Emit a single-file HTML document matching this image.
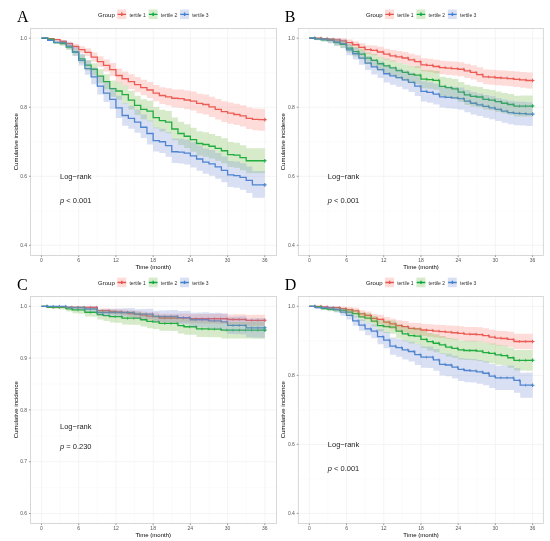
<!DOCTYPE html>
<html><head><meta charset="utf-8"><style>
html,body{margin:0;padding:0;background:#fff;width:550px;height:541px;overflow:hidden}
svg{display:block;font-family:"Liberation Sans", sans-serif;transform:translateZ(0);will-change:transform}
text{stroke-width:0.22px}
</style></head><body>
<svg width="550" height="541" viewBox="0 0 550 541" font-family='"Liberation Sans", sans-serif'>
<rect width="550" height="541" fill="#fff"/>
<path d="M60.11 28.45V255.45M97.33 28.45V255.45M134.54 28.45V255.45M171.76 28.45V255.45M208.98 28.45V255.45M246.19 28.45V255.45M30.55 72.72H276.55M30.55 141.76H276.55M30.55 210.8H276.55" stroke="#F8F8F8" stroke-width="0.6" fill="none"/>
<path d="M41.5 28.45V255.45M78.72 28.45V255.45M115.93 28.45V255.45M153.15 28.45V255.45M190.37 28.45V255.45M227.58 28.45V255.45M264.8 28.45V255.45M30.55 38.2H276.55M30.55 107.24H276.55M30.55 176.28H276.55M30.55 245.32H276.55" stroke="#F1F1F1" stroke-width="0.8" fill="none"/>
<path d="M41.5 38.2H47.7V38.55H53.91V39.58H60.11V41.31H66.31V43.72H72.51V46.48H78.72V49.59H84.92V52.35H91.12V57.19H97.33V61.67H103.53V65.47H109.73V69.61H115.93V75.48H122.14V78.73H128.34V81.7H134.54V84.63H140.74V87.56H146.95V89.98H153.15V93.09H159.35V95.5H165.56V96.88H171.76V98.26H177.96V98.61H184.16V99.99H190.37V101.03H196.57V103.44H202.77V104.48H208.98V106.89H215.18V109.31H221.38V111.56H227.58V113.11H233.79V114.49H239.99V115.87H246.19V118.29H252.4V119.32H258.6V119.67H264.8" stroke="#E8534E" stroke-width="1.3" fill="none" stroke-linejoin="miter"/>
<path d="M264.8 117.87V121.47M263 119.67H266.6" stroke="#E8534E" stroke-width="1.1"/>
<path d="M41.5 38.2H47.7V39.24H53.91V42.69H60.11V43.72H66.31V47.18H72.51V52.01H78.72V58.91H84.92V65.13H91.12V69.27H97.33V76.17H103.53V81.7H109.73V88.6H115.93V91.02H122.14V94.64H128.34V100.13H134.54V105.31H140.74V109.31H146.95V111.04H153.15V117.6H159.35V120.7H165.56V122.08H171.76V128.99H177.96V133.48H184.16V136.24H190.37V139.69H196.57V143.49H202.77V144.52H208.98V146.25H215.18V148.32H221.38V150.74H227.58V154.53H233.79V155.22H239.99V157.64H246.19V160.75H252.4V160.75H258.6V160.75H264.8" stroke="#07AA41" stroke-width="1.3" fill="none" stroke-linejoin="miter"/>
<path d="M264.8 158.95V162.55M263 160.75H266.6" stroke="#07AA41" stroke-width="1.1"/>
<path d="M41.5 38.2H47.7V40.27H53.91V42.34H60.11V42.69H66.31V46.14H72.51V52.01H78.72V60.29H84.92V68.58H91.12V76.86H97.33V86.18H103.53V93.09H109.73V99.44H115.93V107.93H122.14V115.52H128.34V118.29H134.54V122.08H140.74V127.26H146.95V133.48H153.15V140.55H159.35V141.76H165.56V145.56H171.76V151.77H177.96V152.12H184.16V153.15H190.37V155.91H196.57V159.02H202.77V162.13H208.98V163.85H215.18V166.96H221.38V170.41H227.58V174.9H233.79V175.59H239.99V177.32H246.19V180.42H252.4V184.91H258.6V184.91H264.8" stroke="#4181CF" stroke-width="1.3" fill="none" stroke-linejoin="miter"/>
<path d="M264.8 183.11V186.71M263 184.91H266.6" stroke="#4181CF" stroke-width="1.1"/>
<path d="M41.5 38.2 47.7 38.2 47.7 38.2 53.91 38.2 53.91 38.75 60.11 38.75 60.11 39.97 66.31 39.97 66.31 41.72 72.51 41.72 72.51 43.82 78.72 43.82 78.72 46.26 84.92 46.26 84.92 48.35 91.12 48.35 91.12 52.52 97.33 52.52 97.33 56.34 103.53 56.34 103.53 59.47 109.73 59.47 109.73 62.95 115.93 62.95 115.93 68.4 122.14 68.4 122.14 71.48 128.34 71.48 128.34 74.28 134.54 74.28 134.54 77.05 140.74 77.05 140.74 79.81 146.95 79.81 146.95 82.06 153.15 82.06 153.15 84.96 159.35 84.96 159.35 87.13 165.56 87.13 165.56 88.26 171.76 88.26 171.76 89.39 177.96 89.39 177.96 89.49 184.16 89.49 184.16 90.62 190.37 90.62 190.37 91.44 196.57 91.44 196.57 93.69 202.77 93.69 202.77 94.56 208.98 94.56 208.98 96.81 215.18 96.81 215.18 99.06 221.38 99.06 221.38 101.14 227.58 101.14 227.58 102.57 233.79 102.57 233.79 103.86 239.99 103.86 239.99 105.16 246.19 105.16 246.19 107.49 252.4 107.49 252.4 108.45 258.6 108.45 258.6 108.71 264.8 108.71 264.8 130.63 258.6 130.63 258.6 130.2 252.4 130.2 252.4 129.08 246.19 129.08 246.19 126.58 239.99 126.58 239.99 125.11 233.79 125.11 233.79 123.65 227.58 123.65 227.58 121.97 221.38 121.97 221.38 119.56 215.18 119.56 215.18 116.98 208.98 116.98 208.98 114.4 202.77 114.4 202.77 113.19 196.57 113.19 196.57 110.61 190.37 110.61 190.37 109.37 184.16 109.37 184.16 107.74 177.96 107.74 177.96 107.14 171.76 107.14 171.76 105.51 165.56 105.51 165.56 103.88 159.35 103.88 159.35 101.21 153.15 101.21 153.15 97.9 146.95 97.9 146.95 95.31 140.74 95.31 140.74 92.21 134.54 92.21 134.54 89.11 128.34 89.11 128.34 85.98 122.14 85.98 122.14 82.56 115.93 82.56 115.93 76.28 109.73 76.28 109.73 71.47 103.53 71.47 103.53 67.01 97.33 67.01 97.33 61.85 91.12 61.85 91.12 56.35 84.92 56.35 84.92 52.92 78.72 52.92 78.72 49.15 72.51 49.15 72.51 45.72 66.31 45.72 66.31 42.64 60.11 42.64 60.11 40.41 53.91 40.41 53.91 39.05 47.7 39.05 47.7 38.37 41.5 38.37Z" fill="#F8766D" fill-opacity="0.26"/>
<path d="M41.5 38.2 47.7 38.2 47.7 38.49 53.91 38.49 53.91 41.44 60.11 41.44 60.11 41.81 66.31 41.81 66.31 44.43 72.51 44.43 72.51 48.42 78.72 48.42 78.72 54.5 84.92 54.5 84.92 59.88 91.12 59.88 91.12 63.18 97.33 63.18 97.33 69.34 103.53 69.34 103.53 74.2 109.73 74.2 109.73 80.43 115.93 80.43 115.93 82.35 122.14 82.35 122.14 85.64 128.34 85.64 128.34 90.8 134.54 90.8 134.54 95.64 140.74 95.64 140.74 99.31 146.95 99.31 146.95 100.7 153.15 100.7 153.15 106.97 159.35 106.97 159.35 109.83 165.56 109.83 165.56 110.96 171.76 110.96 171.76 117.61 177.96 117.61 177.96 121.85 184.16 121.85 184.16 124.36 190.37 124.36 190.37 127.65 196.57 127.65 196.57 131.36 202.77 131.36 202.77 132.31 208.98 132.31 208.98 133.96 215.18 133.96 215.18 135.94 221.38 135.94 221.38 138.28 227.58 138.28 227.58 142.03 233.79 142.03 233.79 142.72 239.99 142.72 239.99 145.14 246.19 145.14 246.19 148.25 252.4 148.25 252.4 148.25 258.6 148.25 258.6 148.25 264.8 148.25 264.8 173.25 258.6 173.25 258.6 173.25 252.4 173.25 252.4 173.25 246.19 173.25 246.19 170.14 239.99 170.14 239.99 167.72 233.79 167.72 233.79 167.03 227.58 167.03 227.58 163.19 221.38 163.19 221.38 160.69 215.18 160.69 215.18 158.54 208.98 158.54 208.98 156.73 202.77 156.73 202.77 155.61 196.57 155.61 196.57 151.73 190.37 151.73 190.37 148.11 184.16 148.11 184.16 145.1 177.96 145.1 177.96 140.36 171.76 140.36 171.76 133.21 165.56 133.21 165.56 131.58 159.35 131.58 159.35 128.22 153.15 128.22 153.15 121.37 146.95 121.37 146.95 119.31 140.74 119.31 140.74 114.97 134.54 114.97 134.54 109.46 128.34 109.46 128.34 103.64 122.14 103.64 122.14 99.68 115.93 99.68 115.93 96.77 109.73 96.77 109.73 89.2 103.53 89.2 103.53 83.01 97.33 83.01 97.33 75.35 91.12 75.35 91.12 70.38 84.92 70.38 84.92 63.33 78.72 63.33 78.72 55.59 72.51 55.59 72.51 49.93 66.31 49.93 66.31 45.64 60.11 45.64 60.11 43.94 53.91 43.94 53.91 39.99 47.7 39.99 47.7 38.45 41.5 38.45Z" fill="#6AB43E" fill-opacity="0.27"/>
<path d="M41.5 38.2 47.7 38.2 47.7 39.27 53.91 39.27 53.91 40.68 60.11 40.68 60.11 40.02 66.31 40.02 66.31 42.14 72.51 42.14 72.51 46.67 78.72 46.67 78.72 53.63 84.92 53.63 84.92 60.58 91.12 60.58 91.12 67.53 97.33 67.53 97.33 75.85 103.53 75.85 103.53 82.09 109.73 82.09 109.73 87.77 115.93 87.77 115.93 95.85 122.14 95.85 122.14 103.27 128.34 103.27 128.34 105.87 134.54 105.87 134.54 109.5 140.74 109.5 140.74 114.51 146.95 114.51 146.95 120.56 153.15 120.56 153.15 127.51 159.35 127.51 159.35 128.64 165.56 128.64 165.56 132.35 171.76 132.35 171.76 138.48 177.96 138.48 177.96 138.74 184.16 138.74 184.16 139.69 190.37 139.69 190.37 142.37 196.57 142.37 196.57 145.39 202.77 145.39 202.77 148.42 208.98 148.42 208.98 150.06 215.18 150.06 215.18 153.08 221.38 153.08 221.38 156.45 227.58 156.45 227.58 160.9 233.79 160.9 233.79 161.59 239.99 161.59 239.99 163.32 246.19 163.32 246.19 166.42 252.4 166.42 252.4 170.91 258.6 170.91 258.6 170.91 264.8 170.91 264.8 197.83 258.6 197.83 258.6 197.66 252.4 197.66 252.4 193.01 246.19 193.01 246.19 189.73 239.99 189.73 239.99 187.84 233.79 187.84 233.79 186.98 227.58 186.98 227.58 182.37 221.38 182.37 221.38 178.83 215.18 178.83 215.18 175.64 208.98 175.64 208.98 173.84 202.77 173.84 202.77 170.64 196.57 170.64 196.57 167.45 190.37 167.45 190.37 164.61 184.16 164.61 184.16 163.49 177.96 163.49 177.96 163.06 171.76 163.06 171.76 156.77 165.56 156.77 165.56 152.89 159.35 152.89 159.35 151.59 153.15 151.59 153.15 144.39 146.95 144.39 146.95 138.01 140.74 138.01 140.74 132.67 134.54 132.67 134.54 128.7 128.34 128.7 128.34 125.77 122.14 125.77 122.14 118.01 115.93 118.01 115.93 109.11 109.73 109.11 109.73 102.09 103.53 102.09 103.53 94.52 97.33 94.52 97.33 84.28 91.12 84.28 91.12 74.83 84.92 74.83 84.92 65.38 78.72 65.38 78.72 56.01 72.51 56.01 72.51 49.14 66.31 49.14 66.31 44.69 60.11 44.69 60.11 43.59 53.91 43.59 53.91 41.02 47.7 41.02 47.7 38.45 41.5 38.45Z" fill="#788CD2" fill-opacity="0.27"/>
<rect x="30.55" y="28.45" width="246" height="227" fill="none" stroke="#D4D4D4" stroke-width="0.9"/>
<path d="M41.5 255.45V257.05M78.72 255.45V257.05M115.93 255.45V257.05M153.15 255.45V257.05M190.37 255.45V257.05M227.58 255.45V257.05M264.8 255.45V257.05M28.95 38.2H30.55M28.95 107.24H30.55M28.95 176.28H30.55M28.95 245.32H30.55" stroke="#555" stroke-width="0.6" fill="none"/>
<text x="41.5" y="261.9" font-size="5.0" fill="#555" text-anchor="middle">0</text>
<text x="78.72" y="261.9" font-size="5.0" fill="#555" text-anchor="middle">6</text>
<text x="115.93" y="261.9" font-size="5.0" fill="#555" text-anchor="middle">12</text>
<text x="153.15" y="261.9" font-size="5.0" fill="#555" text-anchor="middle">18</text>
<text x="190.37" y="261.9" font-size="5.0" fill="#555" text-anchor="middle">24</text>
<text x="227.58" y="261.9" font-size="5.0" fill="#555" text-anchor="middle">30</text>
<text x="264.8" y="261.9" font-size="5.0" fill="#555" text-anchor="middle">36</text>
<text x="27.1" y="39.9" font-size="5.0" fill="#555" text-anchor="end">1.0</text>
<text x="27.1" y="108.94" font-size="5.0" fill="#555" text-anchor="end">0.8</text>
<text x="27.1" y="177.98" font-size="5.0" fill="#555" text-anchor="end">0.6</text>
<text x="27.1" y="247.02" font-size="5.0" fill="#555" text-anchor="end">0.4</text>
<text x="153.3" y="268.5" font-size="6" fill="#000" text-anchor="middle">Time (month)</text>
<text transform="translate(17.5 141.7) rotate(-90)" font-size="6" fill="#000" text-anchor="middle">Cumulative incidence</text>
<text x="16.9" y="22.3" font-family="'Liberation Serif', serif" font-size="16" fill="#000">A</text>
<text x="60" y="179.2" font-size="7.5" fill="#1e1e1e">Log−rank</text>
<text x="60" y="203.4" font-size="7.5" fill="#1e1e1e"><tspan font-style="italic">p</tspan> &lt; 0.001</text>
<text x="98.1" y="17.1" font-size="6" fill="#111">Group</text>
<rect x="117.2" y="9.5" width="9" height="9.6" fill="#F8766D" fill-opacity="0.26"/>
<path d="M117.5 14.4H126.1M121.8 12.6V16" stroke="#E8534E" stroke-width="1.4"/>
<text x="129.4" y="16.7" font-size="5" fill="#333">tertile 1</text>
<rect x="148.6" y="9.5" width="9" height="9.6" fill="#6AB43E" fill-opacity="0.27"/>
<path d="M148.9 14.4H157.5M153.2 12.6V16" stroke="#07AA41" stroke-width="1.4"/>
<text x="160.8" y="16.7" font-size="5" fill="#333">tertile 2</text>
<rect x="180" y="9.5" width="9" height="9.6" fill="#788CD2" fill-opacity="0.27"/>
<path d="M180.3 14.4H188.9M184.6 12.6V16" stroke="#4181CF" stroke-width="1.4"/>
<text x="192.2" y="16.7" font-size="5" fill="#333">tertile 3</text>
<path d="M327.91 28.45V255.45M365.13 28.45V255.45M402.34 28.45V255.45M439.56 28.45V255.45M476.78 28.45V255.45M513.99 28.45V255.45M298.35 72.72H543.35M298.35 141.76H543.35M298.35 210.8H543.35" stroke="#F8F8F8" stroke-width="0.6" fill="none"/>
<path d="M309.3 28.45V255.45M346.52 28.45V255.45M383.73 28.45V255.45M420.95 28.45V255.45M458.17 28.45V255.45M495.38 28.45V255.45M532.6 28.45V255.45M298.35 38.2H543.35M298.35 107.24H543.35M298.35 176.28H543.35M298.35 245.32H543.35" stroke="#F1F1F1" stroke-width="0.8" fill="none"/>
<path d="M309.3 38.2H315.5V38.2H321.71V38.55H327.91V39.24H334.11V39.93H340.31V40.96H346.52V42.69H352.72V44.76H358.92V47.35H365.13V49.59H371.33V50.28H377.53V52.01H383.73V54.22H389.94V55.81H396.14V56.84H402.34V58.01H408.54V59.95H414.75V61.67H420.95V64.78H427.15V65.3H433.36V66.51H439.56V67.54H445.76V68.03H451.96V68.58H458.17V69.27H464.37V70.82H470.57V72.37H476.78V74.62H482.98V76.86H489.18V77.21H495.38V77.73H501.59V78.04H507.79V78.59H513.99V79.28H520.2V79.97H526.4V80.52H532.6" stroke="#E8534E" stroke-width="1.3" fill="none" stroke-linejoin="miter"/>
<path d="M314.76 36.7V39.7M320.96 36.7V39.7M327.16 37.05V40.05M333.37 37.74V40.74M339.57 38.43V41.43M345.77 39.46V42.46M351.98 41.19V44.19M358.18 43.26V46.26M364.38 45.85V48.85M370.58 48.09V51.09M376.79 48.78V51.78M382.99 50.51V53.51M389.19 52.72V55.72M395.39 54.31V57.31M401.6 55.34V58.34M407.8 56.51V59.51M414 58.45V61.45M420.21 60.17V63.17M426.41 63.28V66.28M432.61 63.8V66.8M438.81 65.01V68.01M445.02 66.04V69.04M451.22 66.53V69.53M457.42 67.08V70.08M463.63 67.77V70.77M469.83 69.32V72.32M476.03 70.87V73.87M482.23 73.12V76.12M488.44 75.36V78.36M494.64 75.71V78.71M500.84 76.23V79.23M507.05 76.54V79.54M513.25 77.09V80.09M519.45 77.78V80.78M525.65 78.47V81.47" stroke="#E8534E" stroke-width="0.7"/>
<path d="M532.6 78.72V82.32M530.8 80.52H534.4" stroke="#E8534E" stroke-width="1.1"/>
<path d="M309.3 38.2H315.5V38.89H321.71V39.93H327.91V40.44H334.11V42.69H340.31V44.41H346.52V48.21H352.72V51.66H358.92V54.08H365.13V58.22H371.33V60.29H377.53V63.74H383.73V65.82H389.94V67.89H396.14V70.65H402.34V72.37H408.54V74.45H414.75V75.14H420.95V79.14H427.15V79.62H433.36V80.31H439.56V86.32H445.76V87.56H451.96V88.94H458.17V92.05H464.37V94.81H470.57V96.33H476.78V97.02H482.98V99.3H489.18V100.13H495.38V101.72H501.59V103.24H507.79V104.48H513.99V106.03H520.2V106.03H526.4V106.03H532.6" stroke="#07AA41" stroke-width="1.3" fill="none" stroke-linejoin="miter"/>
<path d="M314.76 36.7V39.7M320.96 37.39V40.39M327.16 38.43V41.43M333.37 38.94V41.94M339.57 41.19V44.19M345.77 42.91V45.91M351.98 46.71V49.71M358.18 50.16V53.16M364.38 52.58V55.58M370.58 56.72V59.72M376.79 58.79V61.79M382.99 62.24V65.24M389.19 64.32V67.32M395.39 66.39V69.39M401.6 69.15V72.15M407.8 70.87V73.87M414 72.95V75.95M420.21 73.64V76.64M426.41 77.64V80.64M432.61 78.12V81.12M438.81 78.81V81.81M445.02 84.82V87.82M451.22 86.06V89.06M457.42 87.44V90.44M463.63 90.55V93.55M469.83 93.31V96.31M476.03 94.83V97.83M482.23 95.52V98.52M488.44 97.8V100.8M494.64 98.63V101.63M500.84 100.22V103.22M507.05 101.74V104.74M513.25 102.98V105.98M519.45 104.53V107.53M525.65 104.53V107.53" stroke="#07AA41" stroke-width="0.7"/>
<path d="M532.6 104.23V107.83M530.8 106.03H534.4" stroke="#07AA41" stroke-width="1.1"/>
<path d="M309.3 38.2H315.5V38.89H321.71V39.24H327.91V40.44H334.11V42H340.31V43.72H346.52V49.94H352.72V53.73H358.92V58.22H365.13V63.05H371.33V66.85H377.53V69.72H383.73V73.76H389.94V75.83H396.14V77.55H402.34V79.97H408.54V82.39H414.75V86.18H420.95V91.36H427.15V92.4H433.36V94.12H439.56V96.88H445.76V97.44H451.96V97.92H458.17V98.61H464.37V101.03H470.57V103.24H476.78V104.82H482.98V106.34H489.18V107.83H495.38V109.45H501.59V111.04H507.79V112.56H513.99V113.35H520.2V113.63H526.4V114.14H532.6" stroke="#4181CF" stroke-width="1.3" fill="none" stroke-linejoin="miter"/>
<path d="M314.76 36.7V39.7M320.96 37.39V40.39M327.16 37.74V40.74M333.37 38.94V41.94M339.57 40.5V43.5M345.77 42.22V45.22M351.98 48.44V51.44M358.18 52.23V55.23M364.38 56.72V59.72M370.58 61.55V64.55M376.79 65.35V68.35M382.99 68.22V71.22M389.19 72.26V75.26M395.39 74.33V77.33M401.6 76.05V79.05M407.8 78.47V81.47M414 80.89V83.89M420.21 84.68V87.68M426.41 89.86V92.86M432.61 90.9V93.9M438.81 92.62V95.62M445.02 95.38V98.38M451.22 95.94V98.94M457.42 96.42V99.42M463.63 97.11V100.11M469.83 99.53V102.53M476.03 101.74V104.74M482.23 103.32V106.32M488.44 104.84V107.84M494.64 106.33V109.33M500.84 107.95V110.95M507.05 109.54V112.54M513.25 111.06V114.06M519.45 111.85V114.85M525.65 112.13V115.13" stroke="#4181CF" stroke-width="0.7"/>
<path d="M532.6 112.34V115.94M530.8 114.14H534.4" stroke="#4181CF" stroke-width="1.1"/>
<path d="M309.3 38.2 315.5 38.2 315.5 38.2 321.71 38.2 321.71 38.2 327.91 38.2 327.91 38.2 334.11 38.2 334.11 38.2 340.31 38.2 340.31 38.21 346.52 38.21 346.52 39.48 352.72 39.48 352.72 41.13 358.92 41.13 358.92 43.31 365.13 43.31 365.13 45.13 371.33 45.13 371.33 45.41 377.53 45.41 377.53 46.72 383.73 46.72 383.73 48.63 389.94 48.63 389.94 50.06 396.14 50.06 396.14 50.92 402.34 50.92 402.34 51.93 408.54 51.93 408.54 53.7 414.75 53.7 414.75 55.26 420.95 55.26 420.95 58.24 427.15 58.24 427.15 58.67 433.36 58.67 433.36 59.8 439.56 59.8 439.56 60.75 445.76 60.75 445.76 61.15 451.96 61.15 451.96 61.62 458.17 61.62 458.17 62.23 464.37 62.23 464.37 63.7 470.57 63.7 470.57 65.17 476.78 65.17 476.78 67.33 482.98 67.33 482.98 69.49 489.18 69.49 489.18 69.75 495.38 69.75 495.38 70.18 501.59 70.18 501.59 70.41 507.79 70.41 507.79 70.88 513.99 70.88 513.99 71.49 520.2 71.49 520.2 72.09 526.4 72.09 526.4 72.56 532.6 72.56 532.6 88.48 526.4 88.48 526.4 87.84 520.2 87.84 520.2 87.07 513.99 87.07 513.99 86.3 507.79 86.3 507.79 85.66 501.59 85.66 501.59 85.27 495.38 85.27 495.38 84.67 489.18 84.67 489.18 84.24 482.98 84.24 482.98 81.91 476.78 81.91 476.78 79.58 470.57 79.58 470.57 77.95 464.37 77.95 464.37 76.31 458.17 76.31 458.17 75.54 451.96 75.54 451.96 74.9 445.76 74.9 445.76 74.33 439.56 74.33 439.56 73.21 433.36 73.21 433.36 71.92 427.15 71.92 427.15 71.32 420.95 71.32 420.95 68.09 414.75 68.09 414.75 66.2 408.54 66.2 408.54 64.1 402.34 64.1 402.34 62.76 396.14 62.76 396.14 61.56 389.94 61.56 389.94 59.8 383.73 59.8 383.73 57.3 377.53 57.3 377.53 55.16 371.33 55.16 371.33 54.05 365.13 54.05 365.13 51.39 358.92 51.39 358.92 48.38 352.72 48.38 352.72 45.9 346.52 45.9 346.52 43.71 340.31 43.71 340.31 42.18 334.11 42.18 334.11 40.99 327.91 40.99 327.91 39.8 321.71 39.8 321.71 38.95 315.5 38.95 315.5 38.45 309.3 38.45Z" fill="#F8766D" fill-opacity="0.26"/>
<path d="M309.3 38.2 315.5 38.2 315.5 38.2 321.71 38.2 321.71 38.26 327.91 38.26 327.91 38.2 334.11 38.2 334.11 39.69 340.31 39.69 340.31 40.75 346.52 40.75 346.52 43.96 352.72 43.96 352.72 46.91 358.92 46.91 358.92 48.83 365.13 48.83 365.13 52.47 371.33 52.47 371.33 54.04 377.53 54.04 377.53 56.99 383.73 56.99 383.73 58.65 389.94 58.65 389.94 60.39 396.14 60.39 396.14 62.82 402.34 62.82 402.34 64.21 408.54 64.21 408.54 65.95 414.75 65.95 414.75 66.3 420.95 66.3 420.95 70.06 427.15 70.06 427.15 70.37 433.36 70.37 433.36 70.9 439.56 70.9 439.56 76.74 445.76 76.74 445.76 77.81 451.96 77.81 451.96 79.03 458.17 79.03 458.17 82.03 464.37 82.03 464.37 84.75 470.57 84.75 470.57 86.23 476.78 86.23 476.78 86.88 482.98 86.88 482.98 89.11 489.18 89.11 489.18 89.9 495.38 89.9 495.38 91.45 501.59 91.45 501.59 92.92 507.79 92.92 507.79 94.12 513.99 94.12 513.99 95.64 520.2 95.64 520.2 95.59 526.4 95.59 526.4 95.55 532.6 95.55 532.6 116.51 526.4 116.51 526.4 116.47 520.2 116.47 520.2 116.43 513.99 116.43 513.99 114.83 507.79 114.83 507.79 113.55 501.59 113.55 501.59 111.99 495.38 111.99 495.38 110.36 489.18 110.36 489.18 109.49 482.98 109.49 482.98 107.17 476.78 107.17 476.78 106.44 470.57 106.44 470.57 104.88 464.37 104.88 464.37 102.07 458.17 102.07 458.17 98.86 451.96 98.86 451.96 97.31 445.76 97.31 445.76 95.9 439.56 95.9 439.56 89.73 433.36 89.73 433.36 88.87 427.15 88.87 427.15 88.22 420.95 88.22 420.95 83.97 414.75 83.97 414.75 82.95 408.54 82.95 408.54 80.54 402.34 80.54 402.34 78.48 396.14 78.48 396.14 75.39 389.94 75.39 389.94 72.98 383.73 72.98 383.73 70.49 377.53 70.49 377.53 66.54 371.33 66.54 371.33 63.97 365.13 63.97 365.13 59.33 358.92 59.33 358.92 56.41 352.72 56.41 352.72 52.46 346.52 52.46 346.52 48.08 340.31 48.08 340.31 45.69 334.11 45.69 334.11 42.78 327.91 42.78 327.91 41.59 321.71 41.59 321.71 39.89 315.5 39.89 315.5 38.53 309.3 38.53Z" fill="#6AB43E" fill-opacity="0.27"/>
<path d="M309.3 38.2 315.5 38.2 315.5 38.2 321.71 38.2 321.71 38.2 327.91 38.2 327.91 38.2 334.11 38.2 334.11 38.25 340.31 38.25 340.31 39.14 346.52 39.14 346.52 44.65 352.72 44.65 352.72 47.86 358.92 47.86 358.92 51.76 365.13 51.76 365.13 56.01 371.33 56.01 371.33 59.23 377.53 59.23 377.53 61.51 383.73 61.51 383.73 65.13 389.94 65.13 389.94 66.95 396.14 66.95 396.14 68.43 402.34 68.43 402.34 70.59 408.54 70.59 408.54 72.76 414.75 72.76 414.75 76.31 420.95 76.31 420.95 81.28 427.15 81.28 427.15 82.15 433.36 82.15 433.36 83.71 439.56 83.71 439.56 86.3 445.76 86.3 445.76 86.69 451.96 86.69 451.96 87 458.17 87 458.17 87.57 464.37 87.57 464.37 89.9 470.57 89.9 470.57 92.03 476.78 92.03 476.78 93.53 482.98 93.53 482.98 94.97 489.18 94.97 489.18 96.37 495.38 96.37 495.38 97.91 501.59 97.91 501.59 99.41 507.79 99.41 507.79 100.85 513.99 100.85 513.99 101.56 520.2 101.56 520.2 101.75 526.4 101.75 526.4 102.19 532.6 102.19 532.6 126.1 526.4 126.1 526.4 125.5 520.2 125.5 520.2 125.14 513.99 125.14 513.99 124.26 507.79 124.26 507.79 122.66 501.59 122.66 501.59 120.99 495.38 120.99 495.38 119.29 489.18 119.29 489.18 117.72 482.98 117.72 482.98 116.12 476.78 116.12 476.78 114.44 470.57 114.44 470.57 112.15 464.37 112.15 464.37 109.65 458.17 109.65 458.17 108.84 451.96 108.84 451.96 108.19 445.76 108.19 445.76 107.47 439.56 107.47 439.56 104.54 433.36 104.54 433.36 102.65 427.15 102.65 427.15 101.44 420.95 101.44 420.95 96.06 414.75 96.06 414.75 92.01 408.54 92.01 408.54 89.34 402.34 89.34 402.34 86.68 396.14 86.68 396.14 84.7 389.94 84.7 389.94 82.38 383.73 82.38 383.73 77.93 377.53 77.93 377.53 74.48 371.33 74.48 371.33 70.1 365.13 70.1 365.13 64.68 358.92 64.68 358.92 59.61 352.72 59.61 352.72 55.23 346.52 55.23 346.52 48.31 340.31 48.31 340.31 45.75 334.11 45.75 334.11 43.36 327.91 43.36 327.91 41.32 321.71 41.32 321.71 40.14 315.5 40.14 315.5 38.62 309.3 38.62Z" fill="#788CD2" fill-opacity="0.27"/>
<rect x="298.35" y="28.45" width="245" height="227" fill="none" stroke="#D4D4D4" stroke-width="0.9"/>
<path d="M309.3 255.45V257.05M346.52 255.45V257.05M383.73 255.45V257.05M420.95 255.45V257.05M458.17 255.45V257.05M495.38 255.45V257.05M532.6 255.45V257.05M296.75 38.2H298.35M296.75 107.24H298.35M296.75 176.28H298.35M296.75 245.32H298.35" stroke="#555" stroke-width="0.6" fill="none"/>
<text x="309.3" y="261.9" font-size="5.0" fill="#555" text-anchor="middle">0</text>
<text x="346.52" y="261.9" font-size="5.0" fill="#555" text-anchor="middle">6</text>
<text x="383.73" y="261.9" font-size="5.0" fill="#555" text-anchor="middle">12</text>
<text x="420.95" y="261.9" font-size="5.0" fill="#555" text-anchor="middle">18</text>
<text x="458.17" y="261.9" font-size="5.0" fill="#555" text-anchor="middle">24</text>
<text x="495.38" y="261.9" font-size="5.0" fill="#555" text-anchor="middle">30</text>
<text x="532.6" y="261.9" font-size="5.0" fill="#555" text-anchor="middle">36</text>
<text x="294.9" y="39.9" font-size="5.0" fill="#555" text-anchor="end">1.0</text>
<text x="294.9" y="108.94" font-size="5.0" fill="#555" text-anchor="end">0.8</text>
<text x="294.9" y="177.98" font-size="5.0" fill="#555" text-anchor="end">0.6</text>
<text x="294.9" y="247.02" font-size="5.0" fill="#555" text-anchor="end">0.4</text>
<text x="421.1" y="268.5" font-size="6" fill="#000" text-anchor="middle">Time (month)</text>
<text transform="translate(285.3 141.7) rotate(-90)" font-size="6" fill="#000" text-anchor="middle">Cumulative incidence</text>
<text x="284.7" y="22.3" font-family="'Liberation Serif', serif" font-size="16" fill="#000">B</text>
<text x="327.8" y="179.3" font-size="7.5" fill="#1e1e1e">Log−rank</text>
<text x="327.8" y="203.4" font-size="7.5" fill="#1e1e1e"><tspan font-style="italic">p</tspan> &lt; 0.001</text>
<text x="365.9" y="17.1" font-size="6" fill="#111">Group</text>
<rect x="385" y="9.5" width="9" height="9.6" fill="#F8766D" fill-opacity="0.26"/>
<path d="M385.3 14.4H393.9M389.6 12.6V16" stroke="#E8534E" stroke-width="1.4"/>
<text x="397.2" y="16.7" font-size="5" fill="#333">tertile 1</text>
<rect x="416.4" y="9.5" width="9" height="9.6" fill="#6AB43E" fill-opacity="0.27"/>
<path d="M416.7 14.4H425.3M421 12.6V16" stroke="#07AA41" stroke-width="1.4"/>
<text x="428.6" y="16.7" font-size="5" fill="#333">tertile 2</text>
<rect x="447.8" y="9.5" width="9" height="9.6" fill="#788CD2" fill-opacity="0.27"/>
<path d="M448.1 14.4H456.7M452.4 12.6V16" stroke="#4181CF" stroke-width="1.4"/>
<text x="460" y="16.7" font-size="5" fill="#333">tertile 3</text>
<path d="M60.11 296.55V523.55M97.33 296.55V523.55M134.54 296.55V523.55M171.76 296.55V523.55M208.98 296.55V523.55M246.19 296.55V523.55M30.55 332.2H276.55M30.55 384H276.55M30.55 435.8H276.55M30.55 487.6H276.55" stroke="#F8F8F8" stroke-width="0.6" fill="none"/>
<path d="M41.5 296.55V523.55M78.72 296.55V523.55M115.93 296.55V523.55M153.15 296.55V523.55M190.37 296.55V523.55M227.58 296.55V523.55M264.8 296.55V523.55M30.55 306.3H276.55M30.55 358.1H276.55M30.55 409.9H276.55M30.55 461.7H276.55M30.55 513.5H276.55" stroke="#F1F1F1" stroke-width="0.8" fill="none"/>
<path d="M41.5 306.3H47.7V307.34H53.91V307.34H60.11V307.34H66.31V307.34H72.51V307.34H78.72V307.34H84.92V307.34H91.12V307.34H97.33V310.7H103.53V310.7H109.73V311.48H115.93V312H122.14V312.52H128.34V313.55H134.54V314.23H140.74V315.11H146.95V316.14H153.15V316.66H159.35V318.01H165.56V318.01H171.76V318.01H177.96V318.01H184.16V318.01H190.37V318.73H196.57V318.73H202.77V318.73H208.98V318.73H215.18V318.73H221.38V318.73H227.58V319.51H233.79V319.51H239.99V319.51H246.19V320.29H252.4V320.29H258.6V320.29H264.8" stroke="#E8534E" stroke-width="1.3" fill="none" stroke-linejoin="miter"/>
<path d="M46.96 304.8V307.8M53.16 305.84V308.84M59.36 305.84V308.84M65.57 305.84V308.84M71.77 305.84V308.84M77.97 305.84V308.84M84.18 305.84V308.84M90.38 305.84V308.84M96.58 305.84V308.84M102.78 309.2V312.2M108.99 309.2V312.2M115.19 309.98V312.98M121.39 310.5V313.5M127.59 311.02V314.02M133.8 312.05V315.05M140 312.73V315.73M146.2 313.61V316.61M152.41 314.64V317.64M158.61 315.16V318.16M164.81 316.51V319.51M171.01 316.51V319.51M177.22 316.51V319.51M183.42 316.51V319.51M189.62 316.51V319.51M195.83 317.23V320.23M202.03 317.23V320.23M208.23 317.23V320.23M214.43 317.23V320.23M220.64 317.23V320.23M226.84 317.23V320.23M233.04 318.01V321.01M239.25 318.01V321.01M245.45 318.01V321.01M251.65 318.79V321.79M257.85 318.79V321.79" stroke="#E8534E" stroke-width="0.7"/>
<path d="M264.8 318.49V322.09M263 320.29H266.6" stroke="#E8534E" stroke-width="1.1"/>
<path d="M41.5 306.3H47.7V307.34H53.91V307.34H60.11V307.34H66.31V308.89H72.51V309.93H78.72V309.93H84.92V312.26H91.12V312.26H97.33V314.59H103.53V315.62H109.73V316.66H115.93V316.66H122.14V318.21H128.34V318.21H134.54V318.21H140.74V319.77H146.95V321.32H153.15V321.84H159.35V323.39H165.56V323.39H171.76V323.39H177.96V325.67H184.16V326.76H190.37V326.76H196.57V328.94H202.77V328.94H208.98V329.09H215.18V329.09H221.38V330.13H227.58V330.13H233.79V330.13H239.99V330.13H246.19V330.13H252.4V330.13H258.6V330.13H264.8" stroke="#07AA41" stroke-width="1.3" fill="none" stroke-linejoin="miter"/>
<path d="M46.96 304.8V307.8M53.16 305.84V308.84M59.36 305.84V308.84M65.57 305.84V308.84M71.77 307.39V310.39M77.97 308.43V311.43M84.18 308.43V311.43M90.38 310.76V313.76M96.58 310.76V313.76M102.78 313.09V316.09M108.99 314.12V317.12M115.19 315.16V318.16M121.39 315.16V318.16M127.59 316.71V319.71M133.8 316.71V319.71M140 316.71V319.71M146.2 318.27V321.27M152.41 319.82V322.82M158.61 320.34V323.34M164.81 321.89V324.89M171.01 321.89V324.89M177.22 321.89V324.89M183.42 324.17V327.17M189.62 325.26V328.26M195.83 325.26V328.26M202.03 327.44V330.44M208.23 327.44V330.44M214.43 327.59V330.59M220.64 327.59V330.59M226.84 328.63V331.63M233.04 328.63V331.63M239.25 328.63V331.63M245.45 328.63V331.63M251.65 328.63V331.63M257.85 328.63V331.63" stroke="#07AA41" stroke-width="0.7"/>
<path d="M264.8 328.33V331.93M263 330.13H266.6" stroke="#07AA41" stroke-width="1.1"/>
<path d="M41.5 306.3H47.7V306.3H53.91V306.3H60.11V306.3H66.31V307.34H72.51V307.54H78.72V307.54H84.92V308.99H91.12V308.99H97.33V312.52H103.53V312.52H109.73V312.52H115.93V312.52H122.14V312.52H128.34V312.52H134.54V314.07H140.74V314.07H146.95V314.07H153.15V316.35H159.35V316.35H165.56V316.35H171.76V316.35H177.96V317.7H184.16V317.7H190.37V319.77H196.57V319.77H202.77V319.77H208.98V320.8H215.18V320.8H221.38V321.84H227.58V325.47H233.79V325.47H239.99V325.47H246.19V327.8H252.4V327.8H258.6V327.8H264.8" stroke="#4181CF" stroke-width="1.3" fill="none" stroke-linejoin="miter"/>
<path d="M46.96 304.8V307.8M53.16 304.8V307.8M59.36 304.8V307.8M65.57 304.8V307.8M71.77 305.84V308.84M77.97 306.04V309.04M84.18 306.04V309.04M90.38 307.49V310.49M96.58 307.49V310.49M102.78 311.02V314.02M108.99 311.02V314.02M115.19 311.02V314.02M121.39 311.02V314.02M127.59 311.02V314.02M133.8 311.02V314.02M140 312.57V315.57M146.2 312.57V315.57M152.41 312.57V315.57M158.61 314.85V317.85M164.81 314.85V317.85M171.01 314.85V317.85M177.22 314.85V317.85M183.42 316.2V319.2M189.62 316.2V319.2M195.83 318.27V321.27M202.03 318.27V321.27M208.23 318.27V321.27M214.43 319.3V322.3M220.64 319.3V322.3M226.84 320.34V323.34M233.04 323.97V326.97M239.25 323.97V326.97M245.45 323.97V326.97M251.65 326.3V329.3M257.85 326.3V329.3" stroke="#4181CF" stroke-width="0.7"/>
<path d="M264.8 326V329.6M263 327.8H266.6" stroke="#4181CF" stroke-width="1.1"/>
<path d="M41.5 306.3 47.7 306.3 47.7 307 53.91 307 53.91 306.78 60.11 306.78 60.11 306.56 66.31 306.56 66.31 306.34 72.51 306.34 72.51 306.3 78.72 306.3 78.72 306.3 84.92 306.3 84.92 306.3 91.12 306.3 91.12 306.3 97.33 306.3 97.33 308.59 103.53 308.59 103.53 308.37 109.73 308.37 109.73 308.92 115.93 308.92 115.93 309.22 122.14 309.22 122.14 309.52 128.34 309.52 128.34 310.33 134.54 310.33 134.54 310.78 140.74 310.78 140.74 311.44 146.95 311.44 146.95 312.25 153.15 312.25 153.15 312.62 159.35 312.62 159.35 313.87 165.56 313.87 165.56 313.78 171.76 313.78 171.76 313.7 177.96 313.7 177.96 313.61 184.16 313.61 184.16 313.52 190.37 313.52 190.37 314.15 196.57 314.15 196.57 314.07 202.77 314.07 202.77 313.98 208.98 313.98 208.98 313.89 215.18 313.89 215.18 313.8 221.38 313.8 221.38 313.71 227.58 313.71 227.58 314.4 233.79 314.4 233.79 314.31 239.99 314.31 239.99 314.22 246.19 314.22 246.19 314.91 252.4 314.91 252.4 314.82 258.6 314.82 258.6 314.73 264.8 314.73 264.8 325.84 258.6 325.84 258.6 325.75 252.4 325.75 252.4 325.66 246.19 325.66 246.19 324.8 239.99 324.8 239.99 324.71 233.79 324.71 233.79 324.62 227.58 324.62 227.58 323.75 221.38 323.75 221.38 323.67 215.18 323.67 215.18 323.58 208.98 323.58 208.98 323.49 202.77 323.49 202.77 323.4 196.57 323.4 196.57 323.31 190.37 323.31 190.37 322.5 184.16 322.5 184.16 322.41 177.96 322.41 177.96 322.32 171.76 322.32 171.76 322.23 165.56 322.23 165.56 322.14 159.35 322.14 159.35 320.7 153.15 320.7 153.15 320.03 146.95 320.03 146.95 318.77 140.74 318.77 140.74 317.67 134.54 317.67 134.54 316.77 128.34 316.77 128.34 315.52 122.14 315.52 122.14 314.78 115.93 314.78 115.93 314.04 109.73 314.04 109.73 313.04 103.53 313.04 103.53 312.81 97.33 312.81 97.33 309.22 91.12 309.22 91.12 309 84.92 309 84.92 308.78 78.72 308.78 78.72 308.56 72.51 308.56 72.51 308.34 66.31 308.34 66.31 308.11 60.11 308.11 60.11 307.89 53.91 307.89 53.91 307.67 47.7 307.67 47.7 306.41 41.5 306.41Z" fill="#F8766D" fill-opacity="0.26"/>
<path d="M41.5 306.3 47.7 306.3 47.7 306.46 53.91 306.46 53.91 306.3 60.11 306.3 60.11 306.3 66.31 306.3 66.31 306.3 72.51 306.3 72.51 306.72 78.72 306.72 78.72 306.3 84.92 306.3 84.92 308.13 91.12 308.13 91.12 307.72 97.33 307.72 97.33 309.63 103.53 309.63 103.53 310.25 109.73 310.25 109.73 310.87 115.93 310.87 115.93 310.58 122.14 310.58 122.14 311.96 128.34 311.96 128.34 311.8 134.54 311.8 134.54 311.63 140.74 311.63 140.74 313.02 146.95 313.02 146.95 314.41 153.15 314.41 153.15 314.76 159.35 314.76 159.35 316.14 165.56 316.14 165.56 315.98 171.76 315.98 171.76 315.81 177.96 315.81 177.96 317.92 184.16 317.92 184.16 318.84 190.37 318.84 190.37 318.74 196.57 318.74 196.57 320.86 202.77 320.86 202.77 320.81 208.98 320.81 208.98 320.92 215.18 320.92 215.18 320.87 221.38 320.87 221.38 321.85 227.58 321.85 227.58 321.8 233.79 321.8 233.79 321.75 239.99 321.75 239.99 321.7 246.19 321.7 246.19 321.65 252.4 321.65 252.4 321.6 258.6 321.6 258.6 321.55 264.8 321.55 264.8 338.7 258.6 338.7 258.6 338.65 252.4 338.65 252.4 338.6 246.19 338.6 246.19 338.55 239.99 338.55 239.99 338.5 233.79 338.5 233.79 338.45 227.58 338.45 227.58 338.4 221.38 338.4 221.38 337.32 215.18 337.32 215.18 337.27 208.98 337.27 208.98 337.06 202.77 337.06 202.77 337.01 196.57 337.01 196.57 334.79 190.37 334.79 190.37 334.68 184.16 334.68 184.16 333.42 177.96 333.42 177.96 330.98 171.76 330.98 171.76 330.81 165.56 330.81 165.56 330.64 159.35 330.64 159.35 328.92 153.15 328.92 153.15 328.24 146.95 328.24 146.95 326.52 140.74 326.52 140.74 324.8 134.54 324.8 134.54 324.63 128.34 324.63 128.34 324.46 122.14 324.46 122.14 322.74 115.93 322.74 115.93 322.45 109.73 322.45 109.73 321 103.53 321 103.53 319.55 97.33 319.55 97.33 316.8 91.12 316.8 91.12 316.38 84.92 316.38 84.92 313.63 78.72 313.63 78.72 313.13 72.51 313.13 72.51 311.51 66.31 311.51 66.31 309.38 60.11 309.38 60.11 308.79 53.91 308.79 53.91 308.21 47.7 308.21 47.7 306.59 41.5 306.59Z" fill="#6AB43E" fill-opacity="0.27"/>
<path d="M41.5 306.3 47.7 306.3 47.7 306.3 53.91 306.3 53.91 306.3 60.11 306.3 60.11 306.3 66.31 306.3 66.31 306.3 72.51 306.3 72.51 306.3 78.72 306.3 78.72 306.3 84.92 306.3 84.92 306.49 91.12 306.49 91.12 306.3 97.33 306.3 97.33 309.38 103.53 309.38 103.53 309.12 109.73 309.12 109.73 308.85 115.93 308.85 115.93 308.58 122.14 308.58 122.14 308.32 128.34 308.32 128.34 308.05 134.54 308.05 134.54 309.34 140.74 309.34 140.74 309.07 146.95 309.07 146.95 308.8 153.15 308.8 153.15 310.82 159.35 310.82 159.35 310.55 165.56 310.55 165.56 310.28 171.76 310.28 171.76 310.02 177.96 310.02 177.96 311.1 184.16 311.1 184.16 310.83 190.37 310.83 190.37 312.64 196.57 312.64 196.57 312.39 202.77 312.39 202.77 312.14 208.98 312.14 208.98 312.93 215.18 312.93 215.18 312.68 221.38 312.68 221.38 313.47 227.58 313.47 227.58 316.84 233.79 316.84 233.79 316.59 239.99 316.59 239.99 316.34 246.19 316.34 246.19 318.42 252.4 318.42 252.4 318.17 258.6 318.17 258.6 317.92 264.8 317.92 264.8 337.67 258.6 337.67 258.6 337.42 252.4 337.42 252.4 337.17 246.19 337.17 246.19 334.59 239.99 334.59 239.99 334.34 233.79 334.34 233.79 334.09 227.58 334.09 227.58 330.22 221.38 330.22 221.38 328.93 215.18 328.93 215.18 328.68 208.98 328.68 208.98 327.39 202.77 327.39 202.77 327.14 196.57 327.14 196.57 326.89 190.37 326.89 190.37 324.56 184.16 324.56 184.16 324.3 177.96 324.3 177.96 322.68 171.76 322.68 171.76 322.42 165.56 322.42 165.56 322.15 159.35 322.15 159.35 321.88 153.15 321.88 153.15 319.34 146.95 319.34 146.95 319.07 140.74 319.07 140.74 318.8 134.54 318.8 134.54 316.98 128.34 316.98 128.34 316.72 122.14 316.72 122.14 316.45 115.93 316.45 115.93 316.18 109.73 316.18 109.73 315.92 103.53 315.92 103.53 315.65 97.33 315.65 97.33 311.83 91.12 311.83 91.12 311.49 84.92 311.49 84.92 309.71 78.72 309.71 78.72 309.38 72.51 309.38 72.51 308.84 66.31 308.84 66.31 307.47 60.11 307.47 60.11 307.13 53.91 307.13 53.91 306.8 47.7 306.8 47.7 306.47 41.5 306.47Z" fill="#788CD2" fill-opacity="0.27"/>
<rect x="30.55" y="296.55" width="246" height="227" fill="none" stroke="#D4D4D4" stroke-width="0.9"/>
<path d="M41.5 523.55V525.15M78.72 523.55V525.15M115.93 523.55V525.15M153.15 523.55V525.15M190.37 523.55V525.15M227.58 523.55V525.15M264.8 523.55V525.15M28.95 306.3H30.55M28.95 358.1H30.55M28.95 409.9H30.55M28.95 461.7H30.55M28.95 513.5H30.55" stroke="#555" stroke-width="0.6" fill="none"/>
<text x="41.5" y="530" font-size="5.0" fill="#555" text-anchor="middle">0</text>
<text x="78.72" y="530" font-size="5.0" fill="#555" text-anchor="middle">6</text>
<text x="115.93" y="530" font-size="5.0" fill="#555" text-anchor="middle">12</text>
<text x="153.15" y="530" font-size="5.0" fill="#555" text-anchor="middle">18</text>
<text x="190.37" y="530" font-size="5.0" fill="#555" text-anchor="middle">24</text>
<text x="227.58" y="530" font-size="5.0" fill="#555" text-anchor="middle">30</text>
<text x="264.8" y="530" font-size="5.0" fill="#555" text-anchor="middle">36</text>
<text x="27.1" y="308" font-size="5.0" fill="#555" text-anchor="end">1.0</text>
<text x="27.1" y="359.8" font-size="5.0" fill="#555" text-anchor="end">0.9</text>
<text x="27.1" y="411.6" font-size="5.0" fill="#555" text-anchor="end">0.8</text>
<text x="27.1" y="463.4" font-size="5.0" fill="#555" text-anchor="end">0.7</text>
<text x="27.1" y="515.2" font-size="5.0" fill="#555" text-anchor="end">0.6</text>
<text x="153.3" y="536.6" font-size="6" fill="#000" text-anchor="middle">Time (month)</text>
<text transform="translate(17.5 409.8) rotate(-90)" font-size="6" fill="#000" text-anchor="middle">Cumulative incidence</text>
<text x="16.9" y="290.4" font-family="'Liberation Serif', serif" font-size="16" fill="#000">C</text>
<text x="60" y="428.8" font-size="7.5" fill="#1e1e1e">Log−rank</text>
<text x="60" y="449" font-size="7.5" fill="#1e1e1e"><tspan font-style="italic">p</tspan> = 0.230</text>
<text x="98.1" y="285.2" font-size="6" fill="#111">Group</text>
<rect x="117.2" y="277.6" width="9" height="9.6" fill="#F8766D" fill-opacity="0.26"/>
<path d="M117.5 282.5H126.1M121.8 280.7V284.1" stroke="#E8534E" stroke-width="1.4"/>
<text x="129.4" y="284.8" font-size="5" fill="#333">tertile 1</text>
<rect x="148.6" y="277.6" width="9" height="9.6" fill="#6AB43E" fill-opacity="0.27"/>
<path d="M148.9 282.5H157.5M153.2 280.7V284.1" stroke="#07AA41" stroke-width="1.4"/>
<text x="160.8" y="284.8" font-size="5" fill="#333">tertile 2</text>
<rect x="180" y="277.6" width="9" height="9.6" fill="#788CD2" fill-opacity="0.27"/>
<path d="M180.3 282.5H188.9M184.6 280.7V284.1" stroke="#4181CF" stroke-width="1.4"/>
<text x="192.2" y="284.8" font-size="5" fill="#333">tertile 3</text>
<path d="M327.91 296.55V523.55M365.13 296.55V523.55M402.34 296.55V523.55M439.56 296.55V523.55M476.78 296.55V523.55M513.99 296.55V523.55M298.35 340.82H543.35M298.35 409.86H543.35M298.35 478.9H543.35" stroke="#F8F8F8" stroke-width="0.6" fill="none"/>
<path d="M309.3 296.55V523.55M346.52 296.55V523.55M383.73 296.55V523.55M420.95 296.55V523.55M458.17 296.55V523.55M495.38 296.55V523.55M532.6 296.55V523.55M298.35 306.3H543.35M298.35 375.34H543.35M298.35 444.38H543.35M298.35 513.42H543.35" stroke="#F1F1F1" stroke-width="0.8" fill="none"/>
<path d="M309.3 306.3H315.5V306.3H321.71V306.78H327.91V307.68H334.11V307.68H340.31V308.72H346.52V309.75H352.72V310.93H358.92V313.89H365.13V315.45H371.33V318.38H377.53V319.42H383.73V322.18H389.94V323.91H396.14V325.63H402.34V326.67H408.54V328.39H414.75V328.91H420.95V329.98H427.15V330.46H433.36V331.15H439.56V331.64H445.76V332.19H451.96V332.74H458.17V333.29H464.37V334.09H470.57V334.26H476.78V334.61H482.98V335.64H489.18V337.06H495.38V338.06H501.59V338.51H507.79V339.44H513.99V341.48H520.2V341.48H526.4V341.48H532.6" stroke="#E8534E" stroke-width="1.3" fill="none" stroke-linejoin="miter"/>
<path d="M314.76 304.8V307.8M320.96 304.8V307.8M327.16 305.28V308.28M333.37 306.18V309.18M339.57 306.18V309.18M345.77 307.22V310.22M351.98 308.25V311.25M358.18 309.43V312.43M364.38 312.39V315.39M370.58 313.95V316.95M376.79 316.88V319.88M382.99 317.92V320.92M389.19 320.68V323.68M395.39 322.41V325.41M401.6 324.13V327.13M407.8 325.17V328.17M414 326.89V329.89M420.21 327.41V330.41M426.41 328.48V331.48M432.61 328.96V331.96M438.81 329.65V332.65M445.02 330.14V333.14M451.22 330.69V333.69M457.42 331.24V334.24M463.63 331.79V334.79M469.83 332.59V335.59M476.03 332.76V335.76M482.23 333.11V336.11M488.44 334.14V337.14M494.64 335.56V338.56M500.84 336.56V339.56M507.05 337.01V340.01M513.25 337.94V340.94M519.45 339.98V342.98M525.65 339.98V342.98" stroke="#E8534E" stroke-width="0.7"/>
<path d="M532.6 339.68V343.28M530.8 341.48H534.4" stroke="#E8534E" stroke-width="1.1"/>
<path d="M309.3 306.3H315.5V306.78H321.71V308.72H327.91V309.41H334.11V309.75H340.31V310.44H346.52V312.17H352.72V313.55H358.92V316.83H365.13V318.04H371.33V321.14H377.53V325.63H383.73V326.67H389.94V327.22H396.14V331.15H402.34V333.92H408.54V335.64H414.75V336.16H420.95V339.44H427.15V341.65H433.36V343.24H439.56V344.96H445.76V347.17H451.96V348.28H458.17V349.97H464.37V350.49H470.57V350.49H476.78V351.18H482.98V352.56H489.18V353.35H495.38V354.84H501.59V355.56H507.79V357.73H513.99V360.29H520.2V360.29H526.4V360.29H532.6" stroke="#07AA41" stroke-width="1.3" fill="none" stroke-linejoin="miter"/>
<path d="M314.76 304.8V307.8M320.96 305.28V308.28M327.16 307.22V310.22M333.37 307.91V310.91M339.57 308.25V311.25M345.77 308.94V311.94M351.98 310.67V313.67M358.18 312.05V315.05M364.38 315.33V318.33M370.58 316.54V319.54M376.79 319.64V322.64M382.99 324.13V327.13M389.19 325.17V328.17M395.39 325.72V328.72M401.6 329.65V332.65M407.8 332.42V335.42M414 334.14V337.14M420.21 334.66V337.66M426.41 337.94V340.94M432.61 340.15V343.15M438.81 341.74V344.74M445.02 343.46V346.46M451.22 345.67V348.67M457.42 346.78V349.78M463.63 348.47V351.47M469.83 348.99V351.99M476.03 348.99V351.99M482.23 349.68V352.68M488.44 351.06V354.06M494.64 351.85V354.85M500.84 353.34V356.34M507.05 354.06V357.06M513.25 356.23V359.23M519.45 358.79V361.79M525.65 358.79V361.79" stroke="#07AA41" stroke-width="0.7"/>
<path d="M532.6 358.49V362.09M530.8 360.29H534.4" stroke="#07AA41" stroke-width="1.1"/>
<path d="M309.3 306.3H315.5V307.68H321.71V307.68H327.91V308.2H334.11V309.41H340.31V312.17H346.52V315.28H352.72V320.8H358.92V325.11H365.13V328.91H371.33V331.15H377.53V336.68H383.73V340.13H389.94V346.14H396.14V347.72H402.34V349.97H408.54V351.52H414.75V354.63H420.95V357.18H427.15V357.18H433.36V359.94H439.56V364.4H445.76V364.98H451.96V367.16H458.17V369.47H464.37V370.51H470.57V370.85H476.78V371.89H482.98V373.27H489.18V376.03H495.38V377.79H501.59V377.79H507.79V377.79H513.99V380.45H520.2V385.18H526.4V385.18H532.6" stroke="#4181CF" stroke-width="1.3" fill="none" stroke-linejoin="miter"/>
<path d="M314.76 304.8V307.8M320.96 306.18V309.18M327.16 306.18V309.18M333.37 306.7V309.7M339.57 307.91V310.91M345.77 310.67V313.67M351.98 313.78V316.78M358.18 319.3V322.3M364.38 323.61V326.61M370.58 327.41V330.41M376.79 329.65V332.65M382.99 335.18V338.18M389.19 338.63V341.63M395.39 344.64V347.64M401.6 346.22V349.22M407.8 348.47V351.47M414 350.02V353.02M420.21 353.13V356.13M426.41 355.68V358.68M432.61 355.68V358.68M438.81 358.44V361.44M445.02 362.9V365.9M451.22 363.48V366.48M457.42 365.66V368.66M463.63 367.97V370.97M469.83 369.01V372.01M476.03 369.35V372.35M482.23 370.39V373.39M488.44 371.77V374.77M494.64 374.53V377.53M500.84 376.29V379.29M507.05 376.29V379.29M513.25 376.29V379.29M519.45 378.95V381.95M525.65 383.68V386.68" stroke="#4181CF" stroke-width="0.7"/>
<path d="M532.6 383.38V386.98M530.8 385.18H534.4" stroke="#4181CF" stroke-width="1.1"/>
<path d="M309.3 306.3 315.5 306.3 315.5 306.3 321.71 306.3 321.71 306.3 327.91 306.3 327.91 306.3 334.11 306.3 334.11 306.3 340.31 306.3 340.31 306.42 346.52 306.42 346.52 307.04 352.72 307.04 352.72 307.8 358.92 307.8 358.92 310.35 365.13 310.35 365.13 311.49 371.33 311.49 371.33 314.01 377.53 314.01 377.53 314.63 383.73 314.63 383.73 317.1 389.94 317.1 389.94 318.66 396.14 318.66 396.14 320.21 402.34 320.21 402.34 321.08 408.54 321.08 408.54 322.64 414.75 322.64 414.75 322.99 420.95 322.99 420.95 323.9 427.15 323.9 427.15 324.21 433.36 324.21 433.36 324.74 439.56 324.74 439.56 325.05 445.76 325.05 445.76 325.44 451.96 325.44 451.96 325.83 458.17 325.83 458.17 326.26 464.37 326.26 464.37 326.99 470.57 326.99 470.57 327.09 476.78 327.09 476.78 327.37 482.98 327.37 482.98 328.34 489.18 328.34 489.18 329.69 495.38 329.69 495.38 330.63 501.59 330.63 501.59 331.01 507.79 331.01 507.79 331.87 513.99 331.87 513.99 333.84 520.2 333.84 520.2 333.78 526.4 333.78 526.4 333.71 532.6 333.71 532.6 349.24 526.4 349.24 526.4 349.18 520.2 349.18 520.2 349.11 513.99 349.11 513.99 347.01 507.79 347.01 507.79 346.01 501.59 346.01 501.59 345.49 495.38 345.49 495.38 344.42 489.18 344.42 489.18 342.94 482.98 342.94 482.98 341.84 476.78 341.84 476.78 341.43 470.57 341.43 470.57 341.19 464.37 341.19 464.37 340.33 458.17 340.33 458.17 339.66 451.96 339.66 451.96 338.94 445.76 338.94 445.76 338.22 439.56 338.22 439.56 337.57 433.36 337.57 433.36 336.71 427.15 336.71 427.15 336.06 420.95 336.06 420.95 334.83 414.75 334.83 414.75 334.14 408.54 334.14 408.54 332.25 402.34 332.25 402.34 331.05 396.14 331.05 396.14 329.16 389.94 329.16 389.94 327.26 383.73 327.26 383.73 324.21 377.53 324.21 377.53 322.76 371.33 322.76 371.33 319.41 365.13 319.41 365.13 317.44 358.92 317.44 358.92 314.05 352.72 314.05 352.72 312.46 346.52 312.46 346.52 311.01 340.31 311.01 340.31 309.56 334.11 309.56 334.11 309.14 327.91 309.14 327.91 307.82 321.71 307.82 321.71 306.93 315.5 306.93 315.5 306.51 309.3 306.51Z" fill="#F8766D" fill-opacity="0.26"/>
<path d="M309.3 306.3 315.5 306.3 315.5 306.3 321.71 306.3 321.71 307.47 327.91 307.47 327.91 307.66 334.11 307.66 334.11 307.5 340.31 307.5 340.31 307.69 346.52 307.69 346.52 308.92 352.72 308.92 352.72 309.8 358.92 309.8 358.92 312.58 365.13 312.58 365.13 313.29 371.33 313.29 371.33 315.89 377.53 315.89 377.53 319.88 383.73 319.88 383.73 320.46 389.94 320.46 389.94 320.59 396.14 320.59 396.14 324.11 402.34 324.11 402.34 326.46 408.54 326.46 408.54 327.77 414.75 327.77 414.75 327.87 420.95 327.87 420.95 330.86 427.15 330.86 427.15 332.9 433.36 332.9 433.36 334.32 439.56 334.32 439.56 335.88 445.76 335.88 445.76 337.92 451.96 337.92 451.96 338.86 458.17 338.86 458.17 340.43 464.37 340.43 464.37 340.87 470.57 340.87 470.57 340.8 476.78 340.8 476.78 341.41 482.98 341.41 482.98 342.72 489.18 342.72 489.18 343.44 495.38 343.44 495.38 344.85 501.59 344.85 501.59 345.5 507.79 345.5 507.79 347.6 513.99 347.6 513.99 350.08 520.2 350.08 520.2 350 526.4 350 526.4 349.93 532.6 349.93 532.6 370.65 526.4 370.65 526.4 370.58 520.2 370.58 520.2 370.5 513.99 370.5 513.99 367.87 507.79 367.87 507.79 365.62 501.59 365.62 501.59 364.82 495.38 364.82 495.38 363.26 489.18 363.26 489.18 362.39 482.98 362.39 482.98 360.94 476.78 360.94 476.78 360.17 470.57 360.17 470.57 360.1 464.37 360.1 464.37 359.51 458.17 359.51 458.17 357.69 451.96 357.69 451.96 356.42 445.76 356.42 445.76 354.05 439.56 354.05 439.56 352.15 433.36 352.15 433.36 350.4 427.15 350.4 427.15 348.02 420.95 348.02 420.95 344.45 414.75 344.45 414.75 343.52 408.54 343.52 408.54 341.37 402.34 341.37 402.34 338.2 396.14 338.2 396.14 333.84 389.94 333.84 389.94 332.88 383.73 332.88 383.73 331.38 377.53 331.38 377.53 326.39 371.33 326.39 371.33 322.79 365.13 322.79 365.13 321.08 358.92 321.08 358.92 317.3 352.72 317.3 352.72 315.42 346.52 315.42 346.52 313.19 340.31 313.19 340.31 312 334.11 312 334.11 311.16 327.91 311.16 327.91 309.97 321.71 309.97 321.71 307.53 315.5 307.53 315.5 306.55 309.3 306.55Z" fill="#6AB43E" fill-opacity="0.27"/>
<path d="M309.3 306.3 315.5 306.3 315.5 306.68 321.71 306.68 321.71 306.3 327.91 306.3 327.91 306.3 334.11 306.3 334.11 306.41 340.31 306.41 340.31 308.5 346.52 308.5 346.52 310.94 352.72 310.94 352.72 315.8 358.92 315.8 358.92 319.45 365.13 319.45 365.13 322.58 371.33 322.58 371.33 324.15 377.53 324.15 377.53 329.01 383.73 329.01 383.73 331.92 389.94 331.92 389.94 337.51 396.14 337.51 396.14 338.68 402.34 338.68 402.34 340.51 408.54 340.51 408.54 341.65 414.75 341.65 414.75 344.34 420.95 344.34 420.95 346.6 427.15 346.6 427.15 346.43 433.36 346.43 433.36 349.03 439.56 349.03 439.56 353.31 445.76 353.31 445.76 353.73 451.96 353.73 451.96 355.74 458.17 355.74 458.17 357.93 464.37 357.93 464.37 358.87 470.57 358.87 470.57 359.12 476.78 359.12 476.78 360.07 482.98 360.07 482.98 361.36 489.18 361.36 489.18 364.03 495.38 364.03 495.38 365.7 501.59 365.7 501.59 365.6 507.79 365.6 507.79 365.51 513.99 365.51 513.99 368.08 520.2 368.08 520.2 372.72 526.4 372.72 526.4 372.62 532.6 372.62 532.6 397.73 526.4 397.73 526.4 397.64 520.2 397.64 520.2 392.82 513.99 392.82 513.99 390.07 507.79 390.07 507.79 389.98 501.59 389.98 501.59 389.89 495.38 389.89 495.38 388.03 489.18 388.03 489.18 385.18 482.98 385.18 482.98 383.71 476.78 383.71 476.78 382.58 470.57 382.58 470.57 382.14 464.37 382.14 464.37 381.02 458.17 381.02 458.17 378.58 451.96 378.58 451.96 376.23 445.76 376.23 445.76 375.48 439.56 375.48 439.56 370.86 433.36 370.86 433.36 367.93 427.15 367.93 427.15 367.77 420.95 367.77 420.95 364.92 414.75 364.92 414.75 361.4 408.54 361.4 408.54 359.43 402.34 359.43 402.34 356.77 396.14 356.77 396.14 354.76 389.94 354.76 389.94 348.34 383.73 348.34 383.73 344.34 377.53 344.34 377.53 338.15 371.33 338.15 371.33 335.24 365.13 335.24 365.13 330.78 358.92 330.78 358.92 325.8 352.72 325.8 352.72 319.61 346.52 319.61 346.52 315.84 340.31 315.84 340.31 312.41 334.11 312.41 334.11 310.53 327.91 310.53 327.91 309.35 321.71 309.35 321.71 308.68 315.5 308.68 315.5 306.63 309.3 306.63Z" fill="#788CD2" fill-opacity="0.27"/>
<rect x="298.35" y="296.55" width="245" height="227" fill="none" stroke="#D4D4D4" stroke-width="0.9"/>
<path d="M309.3 523.55V525.15M346.52 523.55V525.15M383.73 523.55V525.15M420.95 523.55V525.15M458.17 523.55V525.15M495.38 523.55V525.15M532.6 523.55V525.15M296.75 306.3H298.35M296.75 375.34H298.35M296.75 444.38H298.35M296.75 513.42H298.35" stroke="#555" stroke-width="0.6" fill="none"/>
<text x="309.3" y="530" font-size="5.0" fill="#555" text-anchor="middle">0</text>
<text x="346.52" y="530" font-size="5.0" fill="#555" text-anchor="middle">6</text>
<text x="383.73" y="530" font-size="5.0" fill="#555" text-anchor="middle">12</text>
<text x="420.95" y="530" font-size="5.0" fill="#555" text-anchor="middle">18</text>
<text x="458.17" y="530" font-size="5.0" fill="#555" text-anchor="middle">24</text>
<text x="495.38" y="530" font-size="5.0" fill="#555" text-anchor="middle">30</text>
<text x="532.6" y="530" font-size="5.0" fill="#555" text-anchor="middle">36</text>
<text x="294.9" y="308" font-size="5.0" fill="#555" text-anchor="end">1.0</text>
<text x="294.9" y="377.04" font-size="5.0" fill="#555" text-anchor="end">0.8</text>
<text x="294.9" y="446.08" font-size="5.0" fill="#555" text-anchor="end">0.6</text>
<text x="294.9" y="515.12" font-size="5.0" fill="#555" text-anchor="end">0.4</text>
<text x="421.1" y="536.6" font-size="6" fill="#000" text-anchor="middle">Time (month)</text>
<text transform="translate(285.3 409.8) rotate(-90)" font-size="6" fill="#000" text-anchor="middle">Cumulative incidence</text>
<text x="284.7" y="290.4" font-family="'Liberation Serif', serif" font-size="16" fill="#000">D</text>
<text x="327.8" y="447.4" font-size="7.5" fill="#1e1e1e">Log−rank</text>
<text x="327.8" y="471.2" font-size="7.5" fill="#1e1e1e"><tspan font-style="italic">p</tspan> &lt; 0.001</text>
<text x="365.9" y="285.2" font-size="6" fill="#111">Group</text>
<rect x="385" y="277.6" width="9" height="9.6" fill="#F8766D" fill-opacity="0.26"/>
<path d="M385.3 282.5H393.9M389.6 280.7V284.1" stroke="#E8534E" stroke-width="1.4"/>
<text x="397.2" y="284.8" font-size="5" fill="#333">tertile 1</text>
<rect x="416.4" y="277.6" width="9" height="9.6" fill="#6AB43E" fill-opacity="0.27"/>
<path d="M416.7 282.5H425.3M421 280.7V284.1" stroke="#07AA41" stroke-width="1.4"/>
<text x="428.6" y="284.8" font-size="5" fill="#333">tertile 2</text>
<rect x="447.8" y="277.6" width="9" height="9.6" fill="#788CD2" fill-opacity="0.27"/>
<path d="M448.1 282.5H456.7M452.4 280.7V284.1" stroke="#4181CF" stroke-width="1.4"/>
<text x="460" y="284.8" font-size="5" fill="#333">tertile 3</text>
</svg>
</body></html>
